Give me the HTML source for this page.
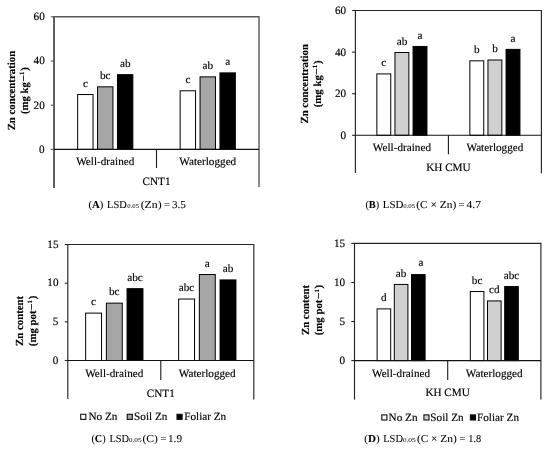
<!DOCTYPE html>
<html><head><meta charset="utf-8"><title>Zn concentration and content</title>
<style>
html,body{margin:0;padding:0;background:#fff;}
body{width:550px;height:450px;overflow:hidden;}
svg{display:block;text-rendering:geometricPrecision;font-family:'Liberation Serif', 'Times New Roman', serif;font-size:11.2px;fill:#000;}
.t text,text.t{stroke:#000;stroke-width:0.15px;}
.yt{font-weight:bold;font-size:10.8px;}
.sup{font-size:6.6px;}
.cap{font-size:10.6px;stroke:#000;stroke-width:0.06px;}
.sub{font-size:6.1px;fill:#333;stroke:#333;stroke-width:0.1px;}
</style></head><body>
<svg width="550" height="450" viewBox="0 0 550 450">
<rect width="550" height="450" fill="#fff"/>
<g><rect x="77.65" y="94.55" width="15.4" height="54.85" fill="#ffffff" stroke="#000" stroke-width="1"/>
<rect x="97.55" y="86.82" width="15.4" height="62.58" fill="#a6a6a6" stroke="#000" stroke-width="1"/>
<rect x="117.45" y="74.66" width="15.4" height="74.74" fill="#000000" stroke="#000" stroke-width="1"/>
<rect x="180.15" y="90.79" width="15.4" height="58.61" fill="#ffffff" stroke="#000" stroke-width="1"/>
<rect x="200.05" y="76.87" width="15.4" height="72.53" fill="#a6a6a6" stroke="#000" stroke-width="1"/>
<rect x="219.95" y="72.89" width="15.4" height="76.51" fill="#000000" stroke="#000" stroke-width="1"/>
<path d="M54 16.8H259V187" fill="none" stroke="#585858" stroke-width="1.4"/>
<path d="M54 188V16.1" fill="none" stroke="#585858" stroke-width="1.9"/>
<line x1="50.8" y1="149.4" x2="54" y2="149.4" stroke="#585858" stroke-width="1.1"/>
<line x1="50.8" y1="105.2" x2="54" y2="105.2" stroke="#585858" stroke-width="1.1"/>
<line x1="50.8" y1="61" x2="54" y2="61" stroke="#585858" stroke-width="1.1"/>
<line x1="50.8" y1="16.8" x2="54" y2="16.8" stroke="#585858" stroke-width="1.1"/>
<line x1="54" y1="149.4" x2="259" y2="149.4" stroke="#111" stroke-width="1.1"/>
<line x1="156.5" y1="149.4" x2="156.5" y2="168" stroke="#1a1a1a" stroke-width="1.1"/></g>
<g><rect x="376.85" y="73.92" width="13.9" height="61.38" fill="#ffffff" stroke="#000" stroke-width="1"/>
<rect x="394.95" y="52.5" width="13.9" height="82.8" fill="#d0d0d0" stroke="#000" stroke-width="1"/>
<rect x="413.05" y="46.47" width="13.9" height="88.83" fill="#000000" stroke="#000" stroke-width="1"/>
<rect x="469.85" y="60.82" width="13.9" height="74.48" fill="#ffffff" stroke="#000" stroke-width="1"/>
<rect x="487.95" y="59.99" width="13.9" height="75.31" fill="#d0d0d0" stroke="#000" stroke-width="1"/>
<rect x="506.05" y="49.38" width="13.9" height="85.92" fill="#000000" stroke="#000" stroke-width="1"/>
<path d="M355.4 10.5H541.4V173.3" fill="none" stroke="#262626" stroke-width="1.15"/>
<path d="M355.4 173V9.93" fill="none" stroke="#262626" stroke-width="1.15"/>
<line x1="352.1" y1="135.3" x2="355.4" y2="135.3" stroke="#262626" stroke-width="1.1"/>
<line x1="352.1" y1="93.7" x2="355.4" y2="93.7" stroke="#262626" stroke-width="1.1"/>
<line x1="352.1" y1="52.1" x2="355.4" y2="52.1" stroke="#262626" stroke-width="1.1"/>
<line x1="352.1" y1="10.5" x2="355.4" y2="10.5" stroke="#262626" stroke-width="1.1"/>
<line x1="355.4" y1="135.3" x2="541.4" y2="135.3" stroke="#111" stroke-width="1.1"/>
<line x1="448.4" y1="135.3" x2="448.4" y2="154.3" stroke="#1a1a1a" stroke-width="1.1"/></g>
<g><rect x="85.65" y="313.11" width="15.9" height="47.39" fill="#ffffff" stroke="#000" stroke-width="1"/>
<rect x="106.35" y="303.13" width="15.9" height="57.37" fill="#a6a6a6" stroke="#000" stroke-width="1"/>
<rect x="127.05" y="288.67" width="15.9" height="71.83" fill="#000000" stroke="#000" stroke-width="1"/>
<rect x="178.65" y="299.03" width="15.9" height="61.47" fill="#ffffff" stroke="#000" stroke-width="1"/>
<rect x="199.35" y="274.52" width="15.9" height="85.98" fill="#a6a6a6" stroke="#000" stroke-width="1"/>
<rect x="220.05" y="279.93" width="15.9" height="80.57" fill="#000000" stroke="#000" stroke-width="1"/>
<path d="M67.8 244.5H253.8V399.6" fill="none" stroke="#262626" stroke-width="1.15"/>
<path d="M67.8 399V243.93" fill="none" stroke="#262626" stroke-width="1.15"/>
<line x1="64.8" y1="360.5" x2="67.8" y2="360.5" stroke="#262626" stroke-width="1.1"/>
<line x1="64.8" y1="321.83" x2="67.8" y2="321.83" stroke="#262626" stroke-width="1.1"/>
<line x1="64.8" y1="283.17" x2="67.8" y2="283.17" stroke="#262626" stroke-width="1.1"/>
<line x1="64.8" y1="244.5" x2="67.8" y2="244.5" stroke="#262626" stroke-width="1.1"/>
<line x1="67.8" y1="360.5" x2="253.8" y2="360.5" stroke="#111" stroke-width="1.1"/>
<line x1="160.8" y1="360.5" x2="160.8" y2="380" stroke="#1a1a1a" stroke-width="1.1"/></g>
<g><rect x="377.1" y="308.89" width="13.6" height="51.71" fill="#ffffff" stroke="#000" stroke-width="1"/>
<rect x="394.3" y="284.43" width="13.6" height="76.17" fill="#d0d0d0" stroke="#000" stroke-width="1"/>
<rect x="411.5" y="274.58" width="13.6" height="86.02" fill="#000000" stroke="#000" stroke-width="1"/>
<rect x="470.3" y="291.54" width="13.6" height="69.06" fill="#ffffff" stroke="#000" stroke-width="1"/>
<rect x="487.5" y="300.92" width="13.6" height="59.68" fill="#d0d0d0" stroke="#000" stroke-width="1"/>
<rect x="504.7" y="286.54" width="13.6" height="74.06" fill="#000000" stroke="#000" stroke-width="1"/>
<path d="M354.5 243.4H540.9V399.6" fill="none" stroke="#262626" stroke-width="1.15"/>
<path d="M354.5 399.6V242.83" fill="none" stroke="#262626" stroke-width="1.15"/>
<line x1="351.3" y1="360.6" x2="354.5" y2="360.6" stroke="#262626" stroke-width="1.1"/>
<line x1="351.3" y1="321.53" x2="354.5" y2="321.53" stroke="#262626" stroke-width="1.1"/>
<line x1="351.3" y1="282.47" x2="354.5" y2="282.47" stroke="#262626" stroke-width="1.1"/>
<line x1="351.3" y1="243.4" x2="354.5" y2="243.4" stroke="#262626" stroke-width="1.1"/>
<line x1="354.5" y1="360.6" x2="540.9" y2="360.6" stroke="#111" stroke-width="1.1"/>
<line x1="447.7" y1="360.6" x2="447.7" y2="380" stroke="#1a1a1a" stroke-width="1.1"/></g>
<rect x="80.7" y="414.3" width="5.1" height="5.1" fill="#ffffff" stroke="#111" stroke-width="1.1"/>
<rect x="127.2" y="414.3" width="5.1" height="5.1" fill="#a6a6a6" stroke="#111" stroke-width="1.1"/>
<rect x="177" y="414.3" width="5.1" height="5.1" fill="#000000" stroke="#111" stroke-width="1.1"/>
<rect x="381.8" y="414.9" width="5.1" height="5.1" fill="#ffffff" stroke="#111" stroke-width="1.1"/>
<rect x="423.9" y="414.9" width="5.1" height="5.1" fill="#d0d0d0" stroke="#111" stroke-width="1.1"/>
<rect x="470.4" y="414.9" width="5.1" height="5.1" fill="#000000" stroke="#111" stroke-width="1.1"/>
<g transform="rotate(0.02 275 225)">
<g class="t"><text x="85.35" y="86.75" text-anchor="middle">c</text>
<text x="105.25" y="79.02" text-anchor="middle">bc</text>
<text x="125.15" y="66.86" text-anchor="middle">ab</text>
<text x="105.25" y="165.5" text-anchor="middle">Well-drained</text>
<text x="187.85" y="82.99" text-anchor="middle">c</text>
<text x="207.75" y="69.07" text-anchor="middle">ab</text>
<text x="227.65" y="65.09" text-anchor="middle">a</text>
<text x="207.75" y="165.5" text-anchor="middle">Waterlogged</text>
<text x="44.7" y="152.8" text-anchor="end">0</text>
<text x="44.7" y="108.6" text-anchor="end">20</text>
<text x="44.7" y="64.4" text-anchor="end">40</text>
<text x="44.7" y="20.2" text-anchor="end">60</text>
<text x="156.5" y="185" text-anchor="middle">CNT1</text>
<text class="yt" transform="translate(14.7 90.7) rotate(-90)" text-anchor="middle">Zn concentration</text>
<text class="yt" transform="translate(27.7 90.7) rotate(-90)" text-anchor="middle">(mg kg<tspan dx="1" dy="-1.35">–</tspan><tspan class="sup" dx="0.6" dy="-2.45">1</tspan><tspan dx="0.9" dy="3.8">)</tspan></text></g>
<g class="t"><text x="383.8" y="66.12" text-anchor="middle">c</text>
<text x="401.9" y="44.7" text-anchor="middle">ab</text>
<text x="420" y="38.67" text-anchor="middle">a</text>
<text x="401.9" y="151" text-anchor="middle">Well-drained</text>
<text x="476.8" y="53.02" text-anchor="middle">b</text>
<text x="494.9" y="52.19" text-anchor="middle">b</text>
<text x="513" y="41.58" text-anchor="middle">a</text>
<text x="494.9" y="151" text-anchor="middle">Waterlogged</text>
<text x="346.1" y="138.7" text-anchor="end">0</text>
<text x="346.1" y="97.1" text-anchor="end">20</text>
<text x="346.1" y="55.5" text-anchor="end">40</text>
<text x="346.1" y="13.9" text-anchor="end">60</text>
<text x="448.4" y="170.8" text-anchor="middle">KH CMU</text>
<text class="yt" transform="translate(307.8 83.8) rotate(-90)" text-anchor="middle">Zn concentration</text>
<text class="yt" transform="translate(320.7 83.8) rotate(-90)" text-anchor="middle">(mg kg<tspan dx="1" dy="-1.35">–</tspan><tspan class="sup" dx="0.6" dy="-2.45">1</tspan><tspan dx="0.9" dy="3.8">)</tspan></text></g>
<g class="t"><text x="93.6" y="305.31" text-anchor="middle">c</text>
<text x="114.3" y="295.33" text-anchor="middle">bc</text>
<text x="135" y="280.87" text-anchor="middle">abc</text>
<text x="114.3" y="376.6" text-anchor="middle">Well-drained</text>
<text x="186.6" y="291.23" text-anchor="middle">abc</text>
<text x="207.3" y="266.72" text-anchor="middle">a</text>
<text x="228" y="272.13" text-anchor="middle">ab</text>
<text x="207.3" y="376.6" text-anchor="middle">Waterlogged</text>
<text x="58.5" y="363.9" text-anchor="end">0</text>
<text x="58.5" y="325.23" text-anchor="end">5</text>
<text x="58.5" y="286.57" text-anchor="end">10</text>
<text x="58.5" y="247.9" text-anchor="end">15</text>
<text x="160.8" y="396.6" text-anchor="middle">CNT1</text>
<text class="yt" transform="translate(22.7 321) rotate(-90)" text-anchor="middle">Zn content</text>
<text class="yt" transform="translate(35.7 321) rotate(-90)" text-anchor="middle">(mg pot<tspan dx="1" dy="-1.35">–</tspan><tspan class="sup" dx="0.6" dy="-2.45">1</tspan><tspan dx="0.9" dy="3.8">)</tspan></text></g>
<g class="t"><text x="383.9" y="301.09" text-anchor="middle">d</text>
<text x="401.1" y="276.63" text-anchor="middle">ab</text>
<text x="420.9" y="265.98" text-anchor="middle">a</text>
<text x="401.1" y="376.5" text-anchor="middle">Well-drained</text>
<text x="477.1" y="283.74" text-anchor="middle">bc</text>
<text x="494.3" y="293.12" text-anchor="middle">cd</text>
<text x="511.5" y="278.74" text-anchor="middle">abc</text>
<text x="494.3" y="376.5" text-anchor="middle">Waterlogged</text>
<text x="345.2" y="364" text-anchor="end">0</text>
<text x="345.2" y="324.93" text-anchor="end">5</text>
<text x="345.2" y="285.87" text-anchor="end">10</text>
<text x="345.2" y="246.8" text-anchor="end">15</text>
<text x="447.7" y="396" text-anchor="middle">KH CMU</text>
<text class="yt" transform="translate(309.4 310) rotate(-90)" text-anchor="middle">Zn content</text>
<text class="yt" transform="translate(322.4 310) rotate(-90)" text-anchor="middle">(mg pot<tspan dx="1" dy="-1.35">–</tspan><tspan class="sup" dx="0.6" dy="-2.45">1</tspan><tspan dx="0.9" dy="3.8">)</tspan></text></g>
<text class="t" x="88.6" y="420">No Zn</text>
<text class="t" x="134.2" y="420">Soil Zn</text>
<text class="t" x="184.3" y="420">Foliar Zn</text>
<text class="t" x="388.7" y="420.6">No Zn</text>
<text class="t" x="430.4" y="420.6">Soil Zn</text>
<text class="t" x="477.1" y="420.6">Foliar Zn</text>
<text class="cap" x="88.5" y="207.9" textLength="14.8" lengthAdjust="spacingAndGlyphs">(<tspan font-weight="bold">A</tspan>)</text>
<text class="cap" x="107.1" y="207.9" textLength="19.6" lengthAdjust="spacingAndGlyphs">LSD</text>
<text class="sub" x="127.3" y="207.9" textLength="11.8" lengthAdjust="spacingAndGlyphs">0.05</text>
<text class="cap" x="140.7" y="207.9" textLength="20.9" lengthAdjust="spacingAndGlyphs">(Zn)</text>
<text class="cap" x="163.9" y="207.9" textLength="6" lengthAdjust="spacingAndGlyphs">=</text>
<text class="cap" x="171.9" y="207.9" textLength="14" lengthAdjust="spacingAndGlyphs">3.5</text>
<text class="cap" x="365.4" y="207.9" textLength="13.8" lengthAdjust="spacingAndGlyphs">(<tspan font-weight="bold">B</tspan>)</text>
<text class="cap" x="382.7" y="207.9" textLength="20.7" lengthAdjust="spacingAndGlyphs">LSD</text>
<text class="sub" x="403.2" y="207.9" textLength="12.1" lengthAdjust="spacingAndGlyphs">0.05</text>
<text class="cap" x="416.2" y="207.9" textLength="40" lengthAdjust="spacingAndGlyphs">(C × Zn)</text>
<text class="cap" x="458.5" y="207.9" textLength="6.1" lengthAdjust="spacingAndGlyphs">=</text>
<text class="cap" x="466.5" y="207.9" textLength="14.4" lengthAdjust="spacingAndGlyphs">4.7</text>
<text class="cap" x="91.5" y="441.8" textLength="14.2" lengthAdjust="spacingAndGlyphs">(<tspan font-weight="bold">C</tspan>)</text>
<text class="cap" x="109.5" y="441.8" textLength="19.7" lengthAdjust="spacingAndGlyphs">LSD</text>
<text class="sub" x="128.9" y="441.8" textLength="12.8" lengthAdjust="spacingAndGlyphs">0.05</text>
<text class="cap" x="142.6" y="441.8" textLength="15.3" lengthAdjust="spacingAndGlyphs">(C)</text>
<text class="cap" x="160.6" y="441.8" textLength="6" lengthAdjust="spacingAndGlyphs">=</text>
<text class="cap" x="168.1" y="441.8" textLength="14" lengthAdjust="spacingAndGlyphs">1.9</text>
<text class="cap" x="364.4" y="441.8" textLength="15.4" lengthAdjust="spacingAndGlyphs">(<tspan font-weight="bold">D</tspan>)</text>
<text class="cap" x="383.3" y="441.8" textLength="19.8" lengthAdjust="spacingAndGlyphs">LSD</text>
<text class="sub" x="402.8" y="441.8" textLength="13.1" lengthAdjust="spacingAndGlyphs">0.05</text>
<text class="cap" x="417" y="441.8" textLength="39.8" lengthAdjust="spacingAndGlyphs">(C × Zn)</text>
<text class="cap" x="459.5" y="441.8" textLength="5.9" lengthAdjust="spacingAndGlyphs">=</text>
<text class="cap" x="468.4" y="441.8" textLength="13" lengthAdjust="spacingAndGlyphs">1.8</text>
</g>
</svg>
</body></html>
